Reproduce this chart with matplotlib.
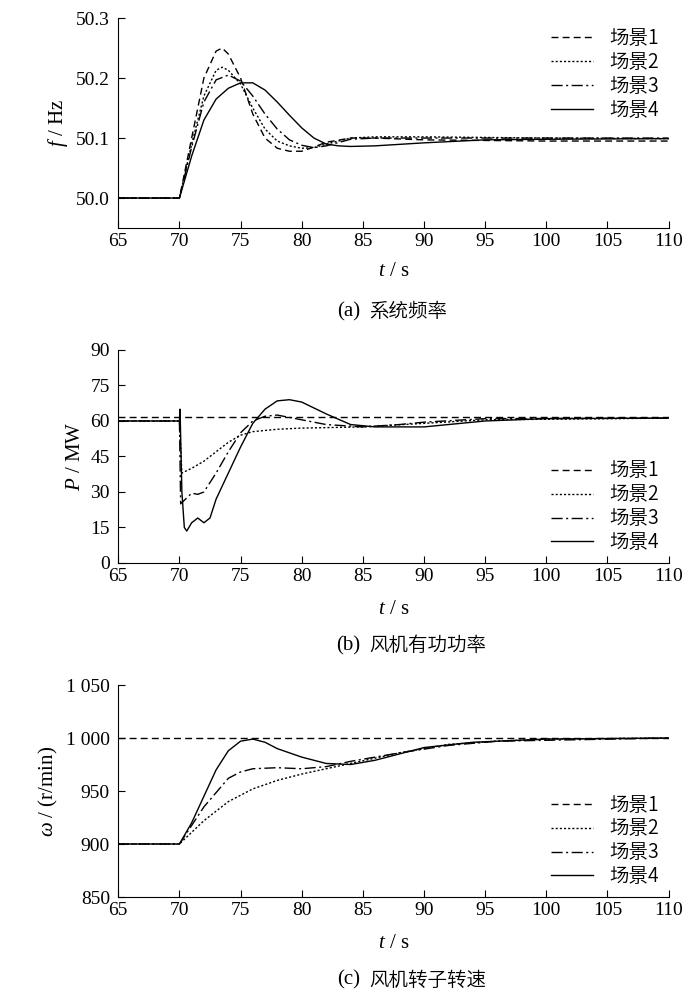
import matplotlib
matplotlib.use("Agg")
import matplotlib.pyplot as plt
from matplotlib import font_manager as fm
from matplotlib.font_manager import FontProperties

cjk_names = sorted({f.name for f in fm.fontManager.ttflist if 'CJK' in f.name})
cjk_pick = next((n for n in cjk_names if n.endswith('SC')), cjk_names[0] if cjk_names else 'DejaVu Sans')
cjk_file = next((f.fname for f in fm.fontManager.ttflist if f.name == cjk_pick), None)

plt.rcParams['font.family'] = ['Liberation Serif', cjk_pick]
plt.rcParams['mathtext.fontset'] = 'custom'
plt.rcParams['mathtext.rm'] = 'Liberation Serif'
plt.rcParams['mathtext.it'] = 'Liberation Serif:italic'
plt.rcParams['axes.unicode_minus'] = False

labels = ['场景1', '场景2', '场景3', '场景4']
styles = [(0, (5, 3)), (0, (1.5, 1.5)), (0, (8, 2.5, 1.5, 2.5)), '-']

# Panel (a): frequency
fa_t = [
    [65, 70, 71, 72, 73, 73.5, 74, 75, 76, 77, 78, 79, 80, 81, 82, 84, 86, 90, 100, 110],
    [65, 70, 71, 72, 73, 73.5, 74, 75, 76, 77, 78, 79, 80, 81, 82, 84, 86, 90, 100, 110],
    [65, 70, 71, 72, 73, 74, 75, 76, 77, 78, 79, 80, 81, 82, 84, 86, 90, 100, 110],
    [65, 70, 71, 72, 73, 74, 75, 76, 77, 78, 79, 80, 81, 82, 83, 84, 86, 90, 95, 100, 110],
]
fa_v = [
    [50.0, 50.0, 50.1, 50.2, 50.245, 50.25, 50.24, 50.2, 50.14, 50.1, 50.083, 50.078, 50.078, 50.085, 50.093, 50.1, 50.1, 50.097, 50.095, 50.095],
    [50.0, 50.0, 50.09, 50.17, 50.213, 50.218, 50.213, 50.19, 50.15, 50.115, 50.095, 50.087, 50.083, 50.084, 50.09, 50.1, 50.102, 50.102, 50.1, 50.099],
    [50.0, 50.0, 50.085, 50.16, 50.197, 50.205, 50.195, 50.17, 50.14, 50.115, 50.097, 50.088, 50.084, 50.087, 50.098, 50.1, 50.1, 50.1, 50.1],
    [50.0, 50.0, 50.07, 50.13, 50.165, 50.183, 50.192, 50.192, 50.18, 50.16, 50.138, 50.117, 50.1, 50.09, 50.087, 50.086, 50.087, 50.092, 50.097, 50.098, 50.099],
]

# Panel (b): active power
pb_t = [
    [65, 110],
    [65, 70, 70.2, 71, 72, 73, 74, 75, 76, 78, 80, 85, 90, 95, 110],
    [65, 70, 70.1, 70.5, 71, 71.5, 72, 73, 74, 75, 76, 77, 78, 79, 80, 82, 85, 88, 90, 95, 110],
    [65, 70, 70.05, 70.2, 70.4, 70.6, 71, 71.5, 72, 72.5, 73, 74, 75, 76, 77, 78, 79, 80, 82, 84, 86, 90, 95, 100, 110],
]
pb_v = [
    [61.5, 61.5],
    [60, 60, 38, 40, 43, 47, 51, 54, 55.5, 56.5, 57, 57.5, 59, 60.5, 61.2],
    [60, 60, 25, 27, 29.5, 29, 30, 38, 47, 55, 60, 62, 62.5, 61.5, 60.5, 58.5, 57.5, 58.5, 59.5, 61, 61.2],
    [60, 60, 65, 30, 15, 13.5, 17, 19, 17, 19, 27, 38, 49, 59, 65, 68.5, 69, 68, 63, 58.5, 57.5, 57.5, 60, 61, 61.2],
]

# Panel (c): rotor speed
wc_t = [
    [65, 110],
    [65, 70, 72, 74, 76, 78, 80, 84, 88, 92, 96, 100, 110],
    [65, 70, 72, 74, 75, 76, 78, 80, 82, 84, 88, 92, 96, 110],
    [65, 70, 71, 72, 73, 74, 75, 76, 77, 78, 80, 82, 84, 86, 88, 90, 94, 100, 110],
]
wc_v = [
    [1000, 1000],
    [900, 900, 922, 940, 952, 960, 966, 976, 986, 994, 997, 999, 1000],
    [900, 900, 935, 962, 968, 971, 972, 971, 973, 978, 986, 993, 997, 1000],
    [900, 900, 920, 945, 970, 988, 997, 999, 996, 990, 982, 976, 975, 979, 985, 991, 996, 999, 1000],
]

xticks = [65, 70, 75, 80, 85, 90, 95, 100, 105, 110]
if cjk_file:
    cjk = FontProperties(fname=cjk_file, size=14)
    cjk_cap = FontProperties(fname=cjk_file, size=14)
else:
    cjk = FontProperties(family=cjk_pick, size=14)
    cjk_cap = cjk

fig = plt.figure(figsize=(7, 9.98), dpi=100)
panels = [
    dict(pos=[0.169, 0.7715, 0.786, 0.2104], t=fa_t, v=fa_v, ylim=(49.95, 50.3),
         yt=[50.0, 50.1, 50.2, 50.3], ytl=['50.0', '50.1', '50.2', '50.3'],
         yl='$f$ / Hz', loc='upper right', tag='(a)', cap='系统频率', xly=0.728, capy=0.688),
    dict(pos=[0.169, 0.4359, 0.786, 0.2134], t=pb_t, v=pb_v, ylim=(0, 90),
         yt=[0, 15, 30, 45, 60, 75, 90], ytl=['0', '15', '30', '45', '60', '75', '90'],
         yl='$P$ / MW', loc='lower right', tag='(b)', cap='风机有功功率', xly=0.389, capy=0.353),
    dict(pos=[0.169, 0.1012, 0.786, 0.2124], t=wc_t, v=wc_v, ylim=(850, 1050),
         yt=[850, 900, 950, 1000, 1050], ytl=['850', '900', '950', '1 000', '1 050'],
         yl='$\\omega$ / (r/min)', loc='lower right', tag='(c)', cap='风机转子转速', xly=0.055, capy=0.018),
]
for p in panels:
    ax = fig.add_axes(p['pos'])
    for i in range(4):
        ax.plot(p['t'][i], p['v'][i], color='black', lw=1.0, linestyle=styles[i], label=labels[i])
    ax.set_xlim(65, 110)
    ax.set_ylim(*p['ylim'])
    ax.set_xticks(xticks)
    ax.set_yticks(p['yt'])
    ax.set_yticklabels(p['ytl'])
    ax.tick_params(direction='in', labelsize=14, length=5)
    ax.tick_params(axis='y', pad=6)
    ax.spines['top'].set_visible(False)
    ax.spines['right'].set_visible(False)
    ax.set_ylabel(p['yl'], fontsize=15)
    ax.legend(loc=p['loc'], frameon=False, prop=cjk, handlelength=2.2,
              labelspacing=0.15, borderaxespad=0.1)
    fig.text(0.562, p['xly'], '$t$ / s', ha='center', va='center', fontsize=15)
    fig.text(0.515, p['capy'], p['tag'], ha='right', va='center', fontsize=15)
    fig.text(0.528, p['capy'], p['cap'], ha='left', va='center', fontproperties=cjk_cap)
fig.savefig('out.png', dpi=100)
